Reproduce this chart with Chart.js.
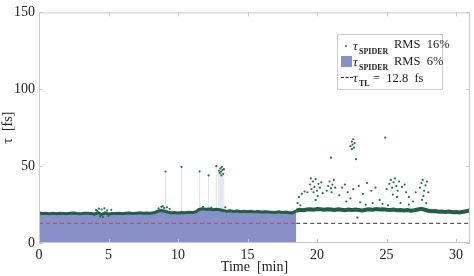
<!DOCTYPE html>
<html>
<head>
<meta charset="utf-8">
<script src="https://cdn.jsdelivr.net/npm/chart.js@4"></script>
<style>
  body { margin: 0; background: #fff; }
  #wrap { position: relative; width: 474px; height: 276px; }
  #legend { position: absolute; left: 337px; top: 34px; width: 104px; height: 54px;
    border: 1px solid #ccc; background: #fff; font-family: 'Liberation Serif', serif; color: #222; }
  #legend span { position: absolute; white-space: nowrap; line-height: 1; }
  .tau { font-style: italic; font-size: 13px; }
  .sub { font-size: 8px; font-weight: bold; }
  .txt { font-size: 12.5px; }
</style>
</head>
<body>
<div id="wrap">
  <canvas id="chart"></canvas>
  <div id="legend">
    <span style="left:7px;top:10px;width:2px;height:2px;background:#2e6b50;border-radius:1px"></span>
    <span class="tau" style="left:15px;top:4px">τ</span>
    <span class="sub" style="left:21px;top:13px">SPIDER</span>
    <span class="txt" style="left:56px;top:3px">RMS&nbsp;&nbsp;16%</span>
    <span style="left:3px;top:21px;width:11px;height:11px;background:#8790c9"></span>
    <span class="tau" style="left:15px;top:20px">τ</span>
    <span class="sub" style="left:21px;top:29px">SPIDER</span>
    <span class="txt" style="left:56px;top:20px">RMS&nbsp;&nbsp;6%</span>
    <span style="left:3px;top:42px;width:12px;border-top:1px dashed #333"></span>
    <span class="tau" style="left:15px;top:36px">τ</span>
    <span class="sub" style="left:21px;top:45px">TL</span>
    <span class="txt" style="left:35px;top:37px">=&nbsp;&nbsp;12.8&nbsp;&nbsp;fs</span>
  </div>
</div>
<script>
// time axis (min) for the dense band of shots
const bandTimes = [0,0.25,0.5,0.75,1,1.25,1.5,1.75,2,2.25,2.5,2.75,3,3.25,3.5,3.75,4,4.25,4.5,4.75,5,5.25,5.5,5.75,6,6.25,6.5,6.75,7,7.25,7.5,7.75,8,8.25,8.5,8.75,9,9.25,9.5,9.75,10,10.25,10.5,10.75,11,11.25,11.5,11.75,12,12.25,12.5,12.75,13,13.25,13.5,13.75,14,14.25,14.5,14.75,15,15.25,15.5,15.75,16,16.25,16.5,16.75,17,17.25,17.5,17.75,18,18.25,18.5,18.75,19,19.25,19.5,19.75,20,20.25,20.5,20.75,21,21.25,21.5,21.75,22,22.25,22.5,22.75,23,23.25,23.5,23.75,24,24.25,24.5,24.75,25,25.25,25.5,25.75,26,26.25,26.5,26.75,27,27.25,27.5,27.75,28,28.25,28.5,28.75,29,29.25,29.5,29.75,30,30.25,30.5,30.75,31]
// pulse duration (fs) along the band
const bandValues = [19.5,19.2,19.4,19.0,19.3,19.1,19.4,19.2,19.0,19.3,19.5,19.2,19.1,19.3,19.4,19.2,
  18.8,19.8,18.5,19.6,18.9,19.2,
  19.2,19.4,19.1,19.3,19.5,19.2,19.4,19.6,19.3,19.5,19.4,19.6,
  20.5,21.2,20.8,20.2,
  19.6,19.8,19.5,19.9,19.7,20.0,19.8,20.1,
  21.8,22.2,21.9,22.1,21.7,22.0,21.6,21.2,
  20.6,20.9,20.5,20.8,20.4,20.7,20.3,20.6,20.2,20.5,20.1,20.4,20.2,20.0,19.8,20.3,19.9,20.1,19.7,19.6,
  21.0,21.6,21.3,21.8,22.0,21.7,22.1,21.9,21.6,22.0,21.8,21.5,21.9,21.6,21.3,21.7,21.4,21.8,21.5,21.2,
  21.6,21.9,21.7,22.1,21.8,22.0,21.6,21.4,21.7,21.3,21.5,21.1,21.4,21.0,21.3,21.8,22.2,21.6,
  21.0,20.6,20.8,20.3,20.5,20.1,20.4,20.0,20.2,19.9,20.3,20.6,21.4]

// end of the 6% RMS window
const windowEnd = 18.5
const tlValue = 12.8

// thin spikes in the shaded trace
const spikeTimes = [9.1, 10.25, 11.55, 12.2, 12.75, 12.93, 13.03, 13.1, 13.18, 13.29]
const spikeValues = [46.5, 49.5, 46.5, 44, 50, 47, 48, 46, 49, 45]

// outlier shots off the band
const outlierTimes = [4.1,4.3,4.5,4.7,4.9,4.4,4.6,5.0,4.2,5.2,
  8.6,8.8,9.0,9.2,8.9,9.4,11.8,12.4,13.4,
  9.1,10.25,11.55,12.2,12.75,12.95,13.0,13.05,13.1,13.15,13.2,13.25,13.12,13.3,
  18.7,18.9,18.6,19.1,18.8,
  19.3,19.5,19.6,19.7,19.8,19.9,20.0,20.1,20.2,20.3,19.75,20.4,19.55,20.05,19.9,
  20.8,20.9,21.0,21.1,21.2,21.3,21.05,20.7,
  21.6,21.8,22.0,22.2,22.4,22.6,23.0,23.3,23.6,23.9,24.2,24.5,22.1,23.1,
  22.4,22.5,22.55,22.6,22.65,22.5,22.7,
  21.0,22.8,24.9,22.9,
  25.0,25.2,25.3,25.4,25.5,25.6,25.7,25.8,25.9,26.1,26.3,26.4,25.45,25.75,
  26.6,26.9,27.1,
  27.4,27.5,27.6,27.7,27.8,27.9,28.0,27.65,27.55,27.85,
  23.5,24.0,24.7,25.1,26.0,26.6]
const outlierValues = [21.5,22.3,21.8,22.5,21.2,17.3,16.8,17.5,20.8,21.6,
  22.5,23.5,22.8,23.2,24.0,22.2,23.5,23.0,23.2,
  46.5,49.5,46.5,44,50,47,45.5,48.5,46.5,49.5,47.5,45,44,48,
  30,32,26,33.5,24.5,
  33,38,35,40,36.5,41.5,34,38.5,36,39.5,33,32.5,42,30.5,28,
  37,40,35.5,38,41,36,33,34,
  31,36,38,33,29,35,37,32,39,34,36,28,27,26.5,
  63,66,64,67.5,62,61,65,
  55.5,54.5,68.5,16.5,
  35,38.5,41,36,39.5,42,37,34,40,36.5,38,33,31.5,30,
  30,27,33,
  36,39,41,34,37.5,40,33,30.5,28,26,
  25,26,25.5,24.5,26,25]

const xTicks = [0, 5, 10, 15, 20, 25, 30]
const yTicks = [0, 50, 100, 150]

const pts = (xs, ys) => xs.map((x, i) => ({ x: x, y: ys[i] }))

const band = pts(bandTimes, bandValues)
const area = band.filter(p => p.x <= windowEnd)

const spikeSets = spikeTimes.map((t, i) => ({
  data: [{ x: t, y: 19 }, { x: t, y: spikeValues[i] }],
  showLine: true,
  borderColor: 'rgba(135,144,201,0.25)',
  borderWidth: 1,
  pointRadius: 0,
  order: 3
}))

// frame + inward ticks like the original figure
const framePlugin = {
  id: 'frame',
  afterDatasetsDraw(chart) {
    const { ctx, chartArea: a, scales } = chart
    ctx.save()
    ctx.strokeStyle = '#c8c8c8'
    ctx.lineWidth = 1
    ctx.strokeRect(a.left + 0.5, a.top + 0.5, a.right - a.left - 1, a.bottom - a.top - 1)
    ctx.beginPath()
    xTicks.forEach(v => {
      const px = Math.round(scales.x.getPixelForValue(v)) + 0.5
      ctx.moveTo(px, a.bottom); ctx.lineTo(px, a.bottom - 4)
      ctx.moveTo(px, a.top); ctx.lineTo(px, a.top + 4)
    })
    yTicks.forEach(v => {
      const py = Math.round(scales.y.getPixelForValue(v)) + 0.5
      ctx.moveTo(a.left, py); ctx.lineTo(a.left + 4, py)
      ctx.moveTo(a.right, py); ctx.lineTo(a.right - 4, py)
    })
    ctx.stroke()
    ctx.restore()
  }
}

const font = { family: 'Liberation Serif', size: 14 }

new Chart(document.getElementById('chart'), {
  type: 'scatter',
  data: {
    datasets: [
      {
        data: pts(outlierTimes, outlierValues),
        pointRadius: 1.1,
        pointBackgroundColor: '#2e6b50',
        pointBorderWidth: 0,
        order: 0
      },
      {
        data: band,
        showLine: true,
        borderColor: '#245e46',
        borderWidth: 3,
        segment: { borderWidth: c => c.p0.parsed.x >= windowEnd ? 4 : 3 },
        pointRadius: 0,
        order: 1
      },
      {
        data: [{ x: 0, y: tlValue }, { x: windowEnd, y: tlValue }],
        showLine: true,
        borderColor: '#c0506a',
        borderDash: [4, 3],
        borderWidth: 1.2,
        pointRadius: 0,
        order: 2
      },
      {
        data: [{ x: windowEnd, y: tlValue }, { x: 31, y: tlValue }],
        showLine: true,
        borderColor: '#333',
        borderDash: [4, 3],
        borderWidth: 1,
        pointRadius: 0,
        order: 2
      },
      ...spikeSets,
      {
        data: area,
        showLine: true,
        fill: 'origin',
        backgroundColor: '#8790c9',
        borderWidth: 0,
        pointRadius: 0,
        order: 4
      }
    ]
  },
  options: {
    responsive: true,
    maintainAspectRatio: false,
    animation: false,
    layout: { padding: { top: 7, right: 4, left: 0, bottom: 0 } },
    plugins: { legend: { display: false }, tooltip: { enabled: false } },
    scales: {
      x: {
        type: 'linear', min: 0, max: 31,
        afterFit: s => { s.height = 33 },
        afterBuildTicks: s => { s.ticks = xTicks.map(v => ({ value: v })) },
        grid: { display: false, drawTicks: false },
        border: { display: false },
        ticks: { font: font, color: '#222', padding: 4, maxRotation: 0 },
        title: { display: true, text: 'Time  [min]', font: font, color: '#222', padding: 0 }
      },
      y: {
        min: 0, max: 150,
        afterFit: s => { s.width = 39 },
        afterBuildTicks: s => { s.ticks = yTicks.map(v => ({ value: v })) },
        grid: { display: false, drawTicks: false },
        border: { display: false },
        ticks: { font: font, color: '#222', padding: 4 },
        title: { display: true, text: 'τ  [fs]', font: font, color: '#222', padding: 0 }
      }
    }
  },
  plugins: [framePlugin]
})
</script>
</body>
</html>
